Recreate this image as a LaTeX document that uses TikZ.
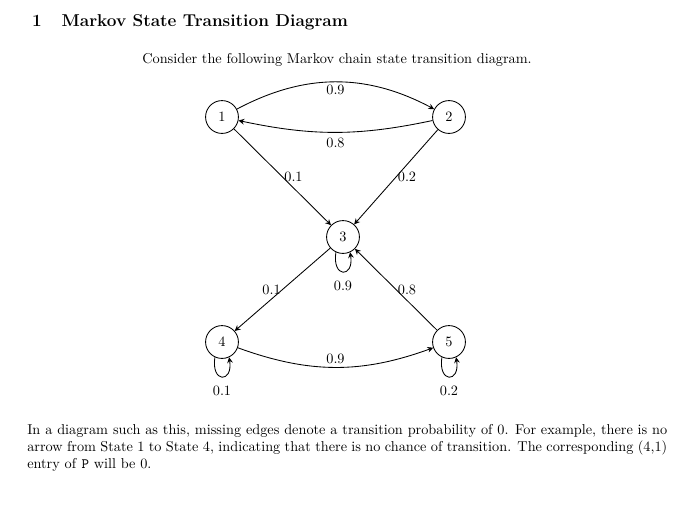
\documentclass[tikz,border=0pt]{standalone}
\usetikzlibrary{arrows.meta}
\begin{document}
\begin{tikzpicture}[x=0.7pt,y=-0.7pt,
  st/.style={circle,draw,semithick,minimum size=23pt,inner sep=0pt},
  edge/.style={->,>={Stealth[length=4pt,width=4pt]},semithick},
  lab/.style={inner sep=1pt}]
\useasboundingbox (0,0) rectangle (686,525);
\node[anchor=west,font=\large\bfseries] (title) at (27,22) {1\hspace{14pt}Markov State Transition Diagram};
\node (intro) at (337,60) {Consider the following Markov chain state transition diagram.};
\node[st] (n1) at (222,117) {1};
\node[st] (n2) at (449,117) {2};
\node[st] (n3) at (343,237) {3};
\node[st] (n4) at (222,342) {4};
\node[st] (n5) at (449,342) {5};
\draw[edge] (n1) to[bend left=28] node[lab,below=1pt,pos=0.5] {0.9} (n2);
\draw[edge] (n2) to[bend left=12] node[lab,below=3pt,pos=0.5] {0.8} (n1);
\draw[edge] (n1) -- node[lab,right,pos=0.5] {0.1} (n3);
\draw[edge] (n2) -- node[lab,right,pos=0.5] {0.2} (n3);
\draw[edge] (n3) -- node[lab,left,pos=0.5] {0.1} (n4);
\draw[edge] (n5) -- node[lab,right,pos=0.5] {0.8} (n3);
\draw[edge] (n4) to[bend right=20] node[lab,above=1pt,pos=0.5] {0.9} (n5);
\foreach \n/\t in {n3/0.9,n4/0.1,n5/0.2}{
  \draw[edge] (\n.-115) .. controls +(-4,26) and +(4,26) .. node[below=3pt] {\t} (\n.-65);
}
\node[anchor=north west,text width=448pt,align=justify,inner sep=0pt] (para) at (27,424)
{In a diagram such as this, missing edges denote a transition probability of 0. For example, there is no arrow from State 1 to State 4, indicating that there is no chance of transition. The corresponding (4,1) entry of \texttt{P} will be 0.};
\end{tikzpicture}
\end{document}
